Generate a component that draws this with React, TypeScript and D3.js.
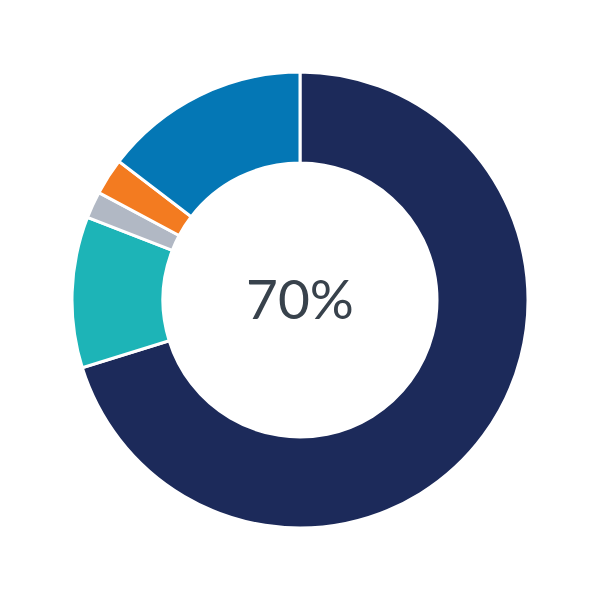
import { useMemo } from "react";
import * as d3 from "d3";

const labels = ["Navy", "Teal", "Gray", "Orange", "Blue"];
const values = [70.2, 10.7, 1.9, 2.6, 14.6];
const colors = ["#1c2a5a", "#1db4b7", "#b1b8c4", "#f37b20", "#0477b5"];
const centerLabel = "70%";

export default function App() {
  const width = 600;
  const height = 600;
  const outerR = 228;
  const innerR = 137;

  const arcs = useMemo(() => {
    const pie = d3
      .pie<number>()
      .sort(null)
      .value((d) => d);
    return pie(values);
  }, []);

  const arc = d3
    .arc<d3.PieArcDatum<number>>()
    .innerRadius(innerR)
    .outerRadius(outerR);

  return (
    <svg
      width={width}
      height={height}
      style={{ position: "absolute", left: 0, top: 0, background: "#fff" }}
    >
      <g transform={`translate(300,300)`}>
        {arcs.map((a, i) => (
          <path
            key={labels[i]}
            d={arc(a) || ""}
            fill={colors[i]}
            stroke="#fff"
            strokeWidth={3}
          />
        ))}
        <text
          x={0}
          y={0}
          dy="0.35em"
          textAnchor="middle"
          style={{ fontFamily: "Lato, sans-serif", fontSize: 55, fill: "#38424c" }}
        >
          {centerLabel}
        </text>
      </g>
    </svg>
  );
}
